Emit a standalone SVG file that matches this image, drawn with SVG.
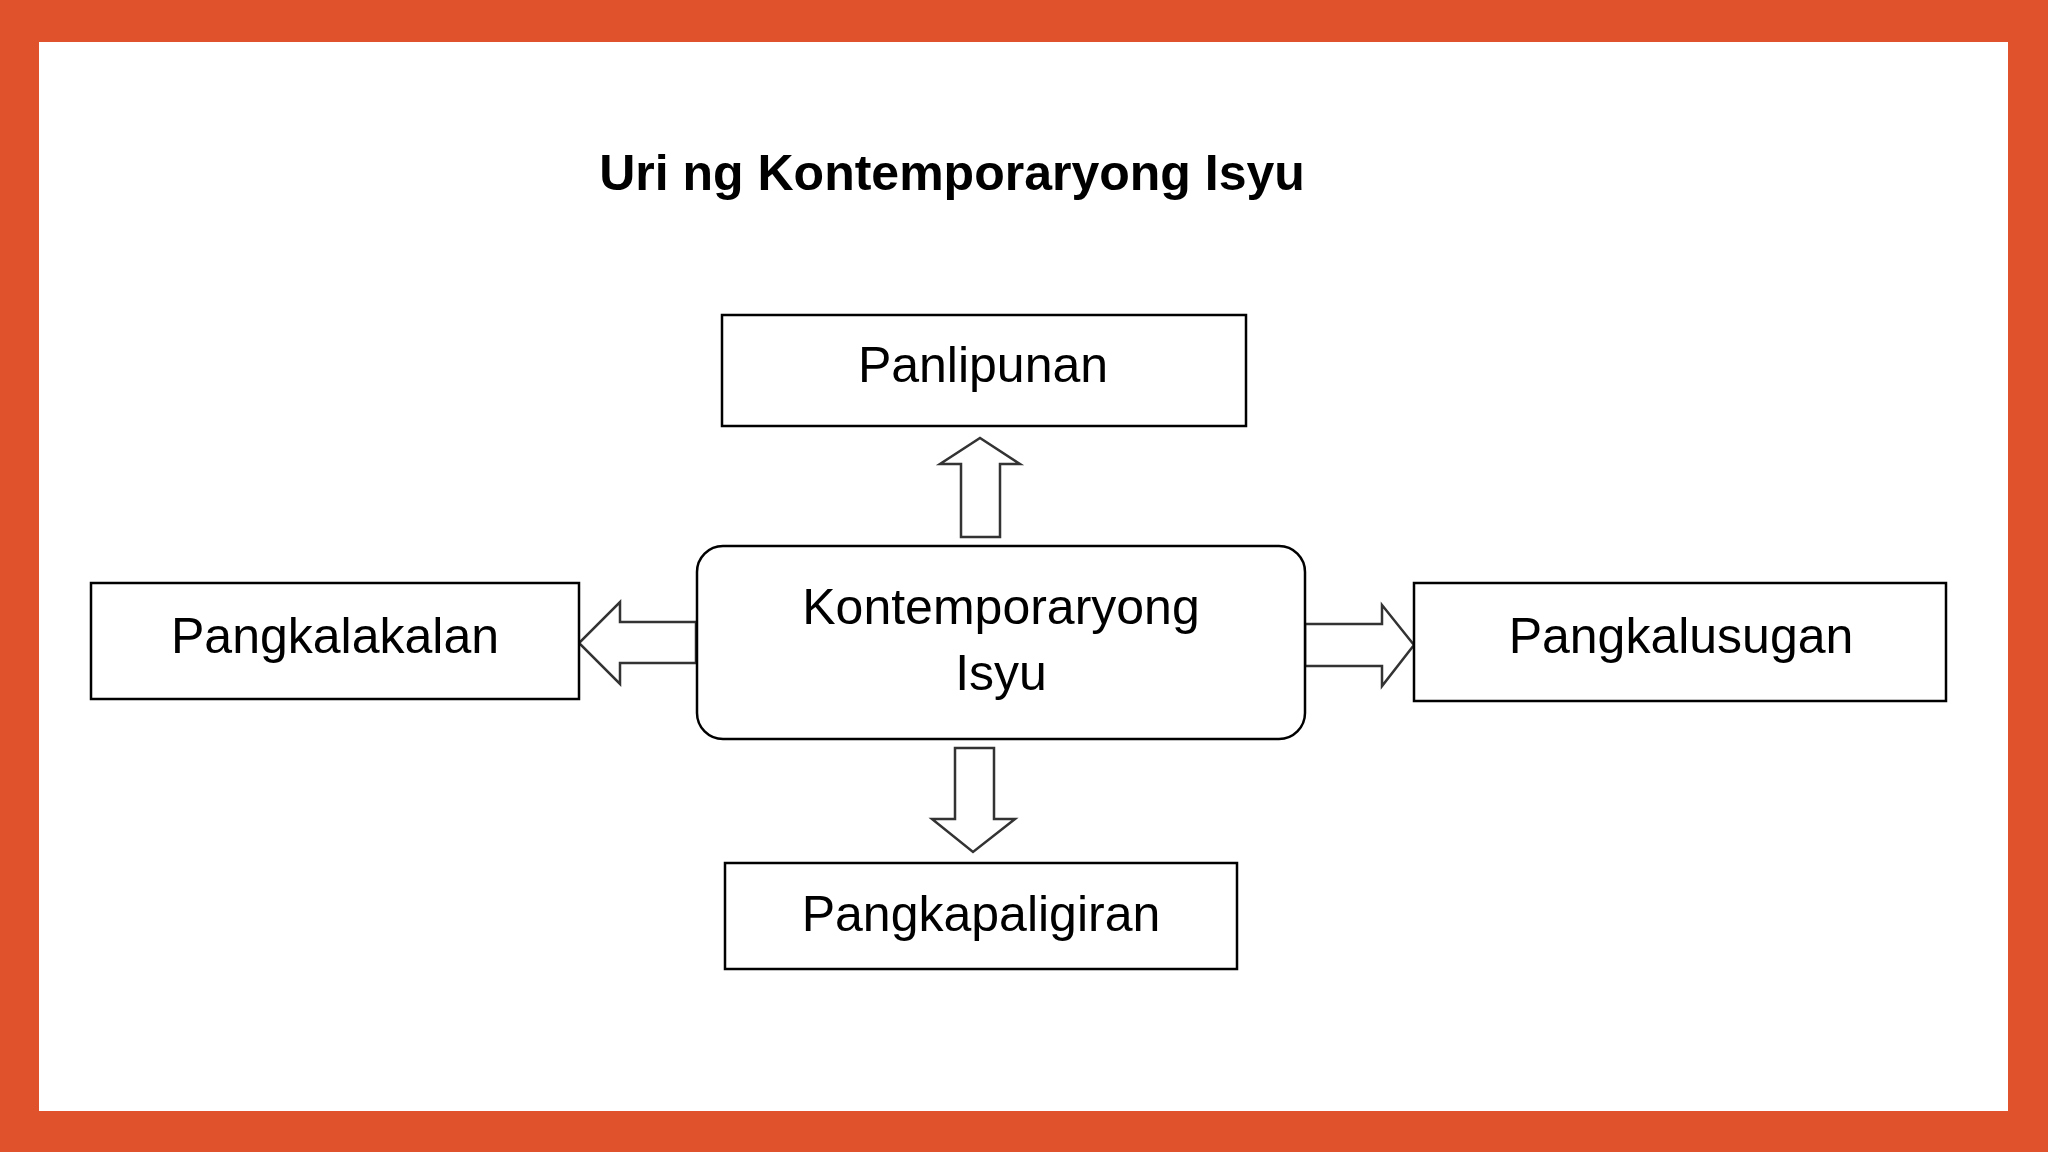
<svg xmlns="http://www.w3.org/2000/svg" width="2048" height="1152" viewBox="0 0 2048 1152">
<style>
.box{fill:#fff;stroke:#000;stroke-width:2.5}
.arr{fill:#fff;stroke:#333;stroke-width:2.5;stroke-linejoin:miter}
.t{font-family:"Liberation Sans",Arial,sans-serif;font-size:50px;fill:#000;text-anchor:middle}
</style>
<rect x="0" y="0" width="2048" height="1152" fill="#e0522b"/>
<rect x="39" y="42" width="1969" height="1069" fill="#fff"/>
<text x="952" y="190" class="t" style="font-weight:bold;font-size:50px">Uri ng Kontemporaryong Isyu</text>
<g id="connectors">
<polygon class="arr" points="961,537 961,464 940,464 980,438 1020,464 1000,464 1000,537"/>
<polygon class="arr" points="955,748 994,748 994,819 1015,819 973,852 932,819 955,819"/>
<polygon class="arr" points="696,622 620,622 620,602 579,643 620,684 620,663 696,663"/>
<polygon class="arr" points="1305,624 1382,624 1382,605 1414,645 1382,686 1382,666 1305,666"/>
</g>
<g id="center"><rect class="box" x="697" y="546" width="608" height="193" rx="26"/><text class="t" x="1001" y="624">Kontemporaryong</text><text class="t" x="1001" y="690">Isyu</text></g>
<g id="panlipunan"><rect class="box" x="722" y="315" width="524" height="111"/><text class="t" x="983" y="382">Panlipunan</text></g>
<g id="pangkalakalan"><rect class="box" x="91" y="583" width="488" height="116"/><text class="t" x="335" y="653">Pangkalakalan</text></g>
<g id="pangkalusugan"><rect class="box" x="1414" y="583" width="532" height="118"/><text class="t" x="1681" y="653">Pangkalusugan</text></g>
<g id="pangkapaligiran"><rect class="box" x="725" y="863" width="512" height="106"/><text class="t" x="981" y="931">Pangkapaligiran</text></g>
</svg>
